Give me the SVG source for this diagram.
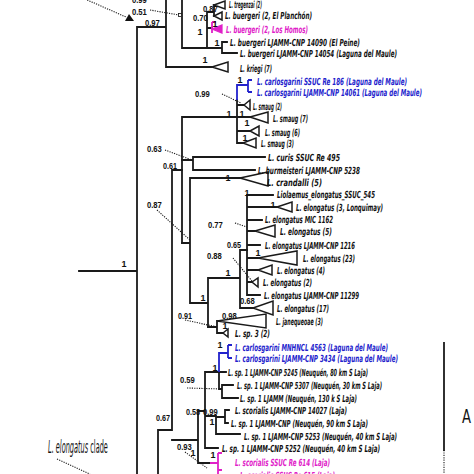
<svg xmlns="http://www.w3.org/2000/svg" width="474" height="474" viewBox="0 0 474 474">
<style>
.e{fill:none;stroke:#1a1a1a;stroke-width:1.8;stroke-linecap:square}
.eb{fill:none;stroke:#2222cc;stroke-width:1.8}
.em{fill:none;stroke:#e020c8;stroke-width:1.8}
.tri{fill:#fff;stroke:#1a1a1a;stroke-width:1.5}
.trim{fill:#e020c8;stroke:#e020c8;stroke-width:1.2}
.dot{fill:none;stroke:#1a1a1a;stroke-width:1.1;stroke-dasharray:1.2 1.2}
.t{font-family:'Liberation Sans Narrow','DejaVu Sans Condensed','Liberation Sans',sans-serif;font-size:9.8px;font-style:italic;font-weight:bold;fill:#111}
.bl{fill:#2222cc}
.mg{fill:#e020c8}
.n{font-family:'Liberation Sans',Arial,sans-serif;font-size:9px;font-weight:bold;fill:#111}
.o{font-family:'Liberation Sans',Arial,sans-serif;font-size:9px;font-weight:bold;fill:#111;text-anchor:middle}
.big{font-family:'Liberation Sans Narrow','DejaVu Sans Condensed','Liberation Sans',sans-serif;fill:#111}
</style>
<rect width="474" height="474" fill="#fff"/>
<g id="connectors">
<path class="e" d="M79,271H137M137,27V480M137,27H166M166,-5V67M166,67H212"/>
<path class="e" d="M182,-5V48H222M207,12V48M207,12H214M214,5V16M222,42V53M222,42H227M222,53H237M207,28H212"/>
<path class="em" d="M212,22V33M212,22H216"/>
<path class="e" d="M182,117V243M182,117H237M237,100V143M237,105H244M237,117H250M237,131H250M237,143H243"/>
<path class="eb" d="M237,100V85H248M248,80V92M248,80H252M248,92H252"/>
<path class="e" d="M172,170H182M172,170V430M158,430H172M158,430V480M182,160H193M193,157V170M193,157H265M193,170H255"/>
<path class="e" d="M182,243H190M190,178V303M190,178H240M190,303H208M208,278V327M208,278H240M240,250V308M240,250H247M240,308H253"/>
<path class="e" d="M247,195V295M247,195H273M247,207H277M247,220H262M247,231H255M247,245H260M247,258H258M247,270H258M247,282H252M247,295H260"/>
<path class="e" d="M208,327H217M217,321V333M217,333H223"/>
<path class="e" d="M172,440H198M198,411V463M198,411H205M205,372V448M205,372H226M219,372V389M219,389H222M222,385V398M222,385H233M222,398H238M205,416H216M216,416V434M216,417H225M225,410V423M225,410H229M225,423H228M216,434H240M205,448H218M198,463H210"/>
<path class="eb" d="M219,372V353H228M228,345V358M228,345H232M228,358H232"/>
<path class="em" d="M210,463H218M218,453V474M218,453H222M218,470H222"/>
<path class="e" d="M444,343V450" stroke-width="2"/>
<path class="dot" d="M444,450V474" stroke-width="2"/>
<path class="dot" d="M85,-1L126,17M150,10L179,15M222,94L241,103M165,150L192,160M157,210L190,240M235,223L247,227M233,258L252,281M185,320L217,327M187,388L222,389M185,452L207,468M57,459L90,474"/>
<polygon points="125,21 129,14 134,21" fill="#111"/>
<rect x="178.5" y="13.5" width="3" height="3" fill="#fff" stroke="#111" stroke-width="0.8"/>
</g>
<g id="clades">
<polygon class="tri" points="214,5 225,1 225,9"/>
<polygon class="tri" points="214,16 222,12 222,20"/>
<polygon class="trim" points="212,29 222,25 222,33"/>
<polygon class="tri" points="212,67 228,62 228,72"/>
<polygon class="tri" points="244,105 250,100 250,110"/>
<polygon class="tri" points="250,117 268,112 268,123"/>
<polygon class="tri" points="250,131 259,126 259,136"/>
<polygon class="tri" points="243,143 256,138 256,148"/>
<polygon class="tri" points="240,178 268,172 268,186"/>
<polygon class="tri" points="277,207 292,202 292,212"/>
<polygon class="tri" points="255,231 275,225 275,237"/>
<polygon class="tri" points="258,258 297,251 297,265"/>
<polygon class="tri" points="258,270 272,265 272,275"/>
<polygon class="tri" points="252,282 258,278 258,287"/>
<polygon class="tri" points="253,308 273,301 273,315"/>
<polygon class="tri" points="217,321 266,314 266,328"/>
<polygon class="tri" points="223,333 228,329 228,337"/>
</g>
<g id="labels">
<text class="t" transform="translate(229,8) scale(0.5,1)" textLength="66" lengthAdjust="spacingAndGlyphs">L. tregenzai (2)</text>
<text class="t" transform="translate(225,19) scale(0.5,1)" textLength="174" lengthAdjust="spacingAndGlyphs">L. buergeri (2, El Planchón)</text>
<text class="t mg" transform="translate(226,33) scale(0.5,1)" textLength="164" lengthAdjust="spacingAndGlyphs">L. buergeri (2, Los Homos)</text>
<text class="t" transform="translate(230,46) scale(0.5,1)" textLength="260" lengthAdjust="spacingAndGlyphs">L. buergeri LJAMM-CNP 14090 (El Peine)</text>
<text class="t" transform="translate(240,57) scale(0.5,1)" textLength="314" lengthAdjust="spacingAndGlyphs">L. buergeri LJAMM-CNP 14054 (Laguna del Maule)</text>
<text class="t" transform="translate(240,72) scale(0.5,1)" textLength="64" lengthAdjust="spacingAndGlyphs">L. kriegi (7)</text>
<text class="t bl" transform="translate(257,85) scale(0.5,1)" textLength="300" lengthAdjust="spacingAndGlyphs">L. carlosgarini SSUC Re 186 (Laguna del Maule)</text>
<text class="t bl" transform="translate(257,96) scale(0.5,1)" textLength="330" lengthAdjust="spacingAndGlyphs">L. carlosgarini LJAMM-CNP 14061 (Laguna del Maule)</text>
<text class="t" transform="translate(253,110) scale(0.5,1)" textLength="58" lengthAdjust="spacingAndGlyphs">L. smaug (2)</text>
<text class="t" transform="translate(273,122) scale(0.5,1)" textLength="70" lengthAdjust="spacingAndGlyphs">L. smaug (7)</text>
<text class="t" transform="translate(265,136) scale(0.5,1)" textLength="70" lengthAdjust="spacingAndGlyphs">L. smaug (6)</text>
<text class="t" transform="translate(261,147) scale(0.5,1)" textLength="66" lengthAdjust="spacingAndGlyphs">L. smaug (3)</text>
<text class="t" transform="translate(268,161) scale(0.5,1)" textLength="144" lengthAdjust="spacingAndGlyphs">L. curis SSUC Re 495</text>
<text class="t" transform="translate(258,174) scale(0.5,1)" textLength="204" lengthAdjust="spacingAndGlyphs">L. burmeisteri LJAMM-CNP 5238</text>
<text class="t" transform="translate(267,186) scale(0.5,1)" textLength="110" lengthAdjust="spacingAndGlyphs">L. crandalli (5)</text>
<text class="t" transform="translate(277,198) scale(0.5,1)" textLength="196" lengthAdjust="spacingAndGlyphs">Liolaemus_elongatus_SSUC_545</text>
<text class="t" transform="translate(296,211) scale(0.5,1)" textLength="174" lengthAdjust="spacingAndGlyphs">L. elongatus (3, Lonquimay)</text>
<text class="t" transform="translate(265,223) scale(0.5,1)" textLength="136" lengthAdjust="spacingAndGlyphs">L. elongatus MIC 1162</text>
<text class="t" transform="translate(280,235) scale(0.5,1)" textLength="104" lengthAdjust="spacingAndGlyphs">L. elongatus (5)</text>
<text class="t" transform="translate(265,249) scale(0.5,1)" textLength="180" lengthAdjust="spacingAndGlyphs">L. elongatus LJAMM-CNP 1216</text>
<text class="t" transform="translate(303,262) scale(0.5,1)" textLength="104" lengthAdjust="spacingAndGlyphs">L. elongatus (23)</text>
<text class="t" transform="translate(277,274) scale(0.5,1)" textLength="96" lengthAdjust="spacingAndGlyphs">L. elongatus (4)</text>
<text class="t" transform="translate(263,286) scale(0.5,1)" textLength="98" lengthAdjust="spacingAndGlyphs">L. elongatus (2)</text>
<text class="t" transform="translate(264,299) scale(0.5,1)" textLength="190" lengthAdjust="spacingAndGlyphs">L. elongatus LJAMM-CNP 11299</text>
<text class="t" transform="translate(277,312) scale(0.5,1)" textLength="104" lengthAdjust="spacingAndGlyphs">L. elongatus (17)</text>
<text class="t" transform="translate(276,325) scale(0.5,1)" textLength="94" lengthAdjust="spacingAndGlyphs">L. janequeoae (3)</text>
<text class="t" transform="translate(235,337) scale(0.5,1)" textLength="70" lengthAdjust="spacingAndGlyphs">L. sp. 3 (2)</text>
<text class="t bl" transform="translate(235,351) scale(0.5,1)" textLength="306" lengthAdjust="spacingAndGlyphs">L. carlosgarini MNHNCL 4563 (Laguna del Maule)</text>
<text class="t bl" transform="translate(235,362) scale(0.5,1)" textLength="326" lengthAdjust="spacingAndGlyphs">L. carlosgarini LJAMM-CNP 3434 (Laguna del Maule)</text>
<text class="t" transform="translate(228,376) scale(0.5,1)" textLength="280" lengthAdjust="spacingAndGlyphs">L. sp. 1 LJAMM-CNP 5245 (Neuquén, 80 km S Laja)</text>
<text class="t" transform="translate(237,389) scale(0.5,1)" textLength="290" lengthAdjust="spacingAndGlyphs">L. sp. 1 LJAMM-CNP 5307 (Neuquén, 30 km S Laja)</text>
<text class="t" transform="translate(240,402) scale(0.5,1)" textLength="234" lengthAdjust="spacingAndGlyphs">L. sp. 1 LJAMM (Neuquén, 130 k S Laja)</text>
<text class="t" transform="translate(235,414) scale(0.5,1)" textLength="224" lengthAdjust="spacingAndGlyphs">L. scorialis LJAMM-CNP 14027 (Laja)</text>
<text class="t" transform="translate(231,427) scale(0.5,1)" textLength="274" lengthAdjust="spacingAndGlyphs">L. sp. 1 LJAMM-CNP (Neuquén, 90 km S Laja)</text>
<text class="t" transform="translate(244,440) scale(0.5,1)" textLength="306" lengthAdjust="spacingAndGlyphs">L. sp. 1 LJAMM-CNP 5253 (Neuquén, 40 km S Laja)</text>
<text class="t" transform="translate(222,452) scale(0.5,1)" textLength="316" lengthAdjust="spacingAndGlyphs">L. sp. 1 LJAMM-CNP 5252 (Neuquén, 40 km S Laja)</text>
<text class="t mg" transform="translate(235,466) scale(0.5,1)" textLength="190" lengthAdjust="spacingAndGlyphs">L. scorialis SSUC Re 614 (Laja)</text>
<text class="t mg" transform="translate(240,479) scale(0.5,1)" textLength="190" lengthAdjust="spacingAndGlyphs">L. scorialis SSUC Re 615 (Laja)</text>
</g>
<g id="support">
<text class="n" transform="translate(132,2.5) scale(0.85,1)">0.99</text>
<text class="n" transform="translate(132,14.5) scale(0.85,1)">0.51</text>
<text class="n" transform="translate(145,25.5) scale(0.85,1)">0.97</text>
<text class="n" transform="translate(203,11.5) scale(0.85,1)">0.87</text>
<text class="n" transform="translate(193,21) scale(0.85,1)">0.70</text>
<text class="n" transform="translate(195,96.5) scale(0.85,1)">0.99</text>
<text class="n" transform="translate(147,151.5) scale(0.85,1)">0.63</text>
<text class="n" transform="translate(163,168.5) scale(0.8,1)">0.61</text>
<text class="n" transform="translate(147,207.5) scale(0.85,1)">0.87</text>
<text class="n" transform="translate(208,227.5) scale(0.85,1)">0.77</text>
<text class="n" transform="translate(227,247.5) scale(0.8,1)">0.65</text>
<text class="n" transform="translate(207,258.5) scale(0.85,1)">0.88</text>
<text class="n" transform="translate(240,303.5) scale(0.85,1)">0.68</text>
<text class="n" transform="translate(178,318.5) scale(0.8,1)">0.91</text>
<text class="n" transform="translate(222,318.5) scale(0.85,1)">0.98</text>
<text class="n" transform="translate(180,382.5) scale(0.85,1)">0.59</text>
<text class="n" transform="translate(186,414.5) scale(0.8,1)">0.58</text>
<text class="n" transform="translate(203,414.5) scale(0.85,1)">0.99</text>
<text class="n" transform="translate(156,420.5) scale(0.8,1)">0.67</text>
<text class="n" transform="translate(177,449.5) scale(0.85,1)">0.93</text>
<text class="o" x="124" y="267">1</text>
<text class="o" x="205" y="63">1</text>
<text class="o" x="200" y="35">1</text>
<text class="o" x="215" y="27">1</text>
<text class="o" x="217" y="46">1</text>
<text class="o" x="240" y="83">1</text>
<text class="o" x="229" y="117">1</text>
<text class="o" x="242" y="117">1</text>
<text class="o" x="247" y="126">1</text>
<text class="o" x="245" y="141">1</text>
<text class="o" x="228" y="181">1</text>
<text class="o" x="247" y="196">1</text>
<text class="o" x="273" y="208">1</text>
<text class="o" x="258" y="256">1</text>
<text class="o" x="228" y="276">1</text>
<text class="o" x="203" y="301">1</text>
<text class="o" x="225" y="329">1</text>
<text class="o" x="220" y="348">1</text>
<text class="o" x="215" y="371">1</text>
<text class="o" x="212" y="425">1</text>
<text class="o" x="193" y="456">1</text>
<text class="o" x="213" y="458">1</text>
</g>
<g id="annotations">
<text class="big" transform="translate(48,453) scale(0.45,1)" font-size="17" textLength="133" lengthAdjust="spacingAndGlyphs"><tspan font-style="italic">L. elongatus</tspan> clade</text>
<text class="big" transform="translate(462,423) scale(0.6,1)" font-size="20" textLength="15" lengthAdjust="spacingAndGlyphs">A</text>
</g>
</svg>
